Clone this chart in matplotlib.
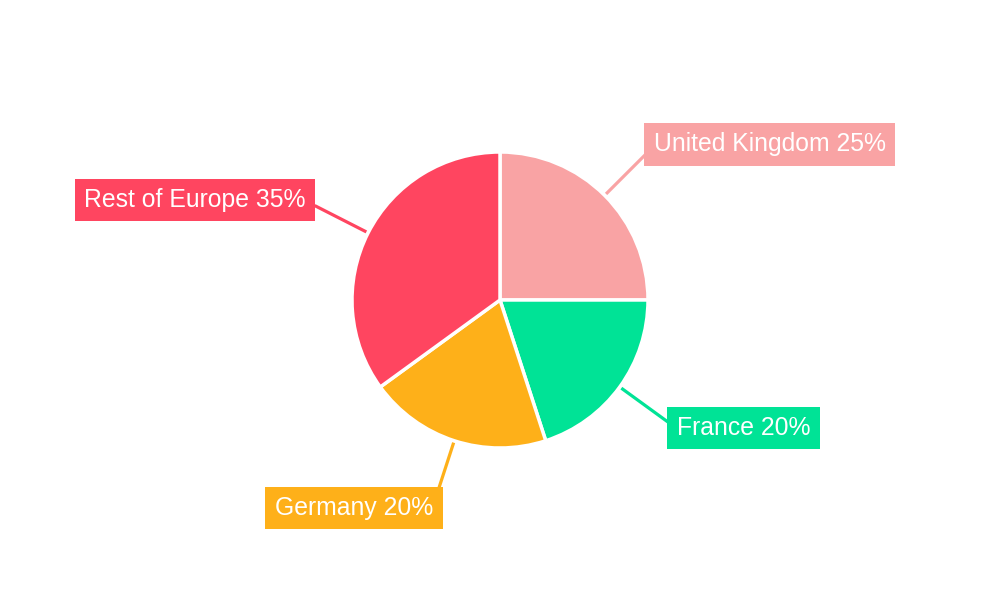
import matplotlib
matplotlib.use('Agg')
import matplotlib.pyplot as plt
import numpy as np

plt.rcParams['font.family'] = ['Liberation Sans', 'DejaVu Sans']

countries = ['United Kingdom', 'France', 'Germany', 'Rest of Europe']
shares = [25, 20, 20, 35]
colors = ['#F9A3A4', '#00E396', '#FEB019', '#FF4560']

# label box centres in pixel coords (x, y from top)
label_pos = [(769.5, 144), (743.5, 427.5), (354, 507.5), (195, 199.5)]

W, H = 1000, 600
cx, cy, r = 500, 300, 148

fig = plt.figure(figsize=(10, 6), dpi=100)
ax = fig.add_axes([0, 0, 1, 1])

wedges, _ = ax.pie(shares, colors=colors, startangle=90, counterclock=False,
                   center=(cx, H - cy), radius=r,
                   wedgeprops=dict(edgecolor='white', linewidth=2.5))

for w, name, val, col, (lx, ly) in zip(wedges, countries, shares, colors, label_pos):
    mid = np.deg2rad((w.theta1 + w.theta2) / 2)
    dx, dy = np.cos(mid), np.sin(mid)
    ax.plot([cx + 150 * dx, cx + 208 * dx], [H - cy + 150 * dy, H - cy + 208 * dy],
            color=col, lw=2.3, solid_capstyle='butt', zorder=1)
    ax.text(lx, H - ly - 0.5, '{} {}%'.format(name, val), color='white', fontsize=17.8,
            ha='center', va='center', zorder=3,
            bbox=dict(boxstyle='square,pad=0.38', fc=col, ec='none'))

ax.set_xlim(0, W)
ax.set_ylim(0, H)
ax.set_aspect('equal')
ax.axis('off')

fig.savefig('out.png', dpi=100)
